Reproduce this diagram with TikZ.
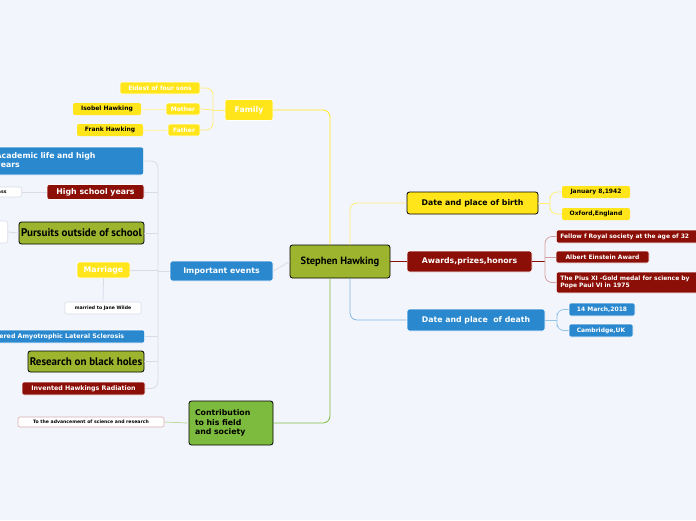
\documentclass[tikz,border=0pt]{standalone}
\usepackage{fontspec}
\setmainfont{DejaVu Sans}
\newfontfamily\condf{PT Sans}
\definecolor{bgc}{HTML}{F3F5FD}
\definecolor{yel}{HTML}{FFE51A}
\definecolor{dred}{HTML}{8C0F07}
\definecolor{blu}{HTML}{2A88CF}
\definecolor{oli}{HTML}{9DB52E}
\definecolor{grn}{HTML}{7CBB3D}
\definecolor{lgr}{HTML}{D8DCE6}
\tikzset{
 bx/.style={rounded corners=2.5pt, inner sep=0pt, align=center, font=\bfseries\fontsize{7.8}{9.5}\selectfont},
 sm/.style={rounded corners=2pt, inner sep=0pt, align=center, font=\bfseries\fontsize{6}{7.2}\selectfont},
 tn/.style={rounded corners=2pt, inner sep=0pt, align=center, font=\bfseries\fontsize{4.6}{5.5}\selectfont, fill=white, draw=lgr, line width=0.6pt},
 Y/.style={fill=yel, text=white, draw=white, line width=0.6pt},
 Yk/.style={fill=yel, text=black},
 R/.style={fill=dred, text=white, draw=white, line width=0.6pt},
 B/.style={fill=blu, text=white, draw=white, line width=0.6pt},
 O/.style={fill=oli, text=black, draw=black, line width=0.8pt, font=\condf\bfseries\fontsize{11}{13}\selectfont},
 ln/.style={draw=#1, line width=0.8pt, rounded corners=7pt},
}
\begin{document}
\begin{tikzpicture}[x=1pt,y=-1pt]
\fill[bgc] (0,0) rectangle (696,520);
\useasboundingbox (0,0) rectangle (696,520);
\clip (0,0) rectangle (696,520);
% center
\node[bx,O,minimum width=100,minimum height=33,font=\condf\bfseries\fontsize{10.5}{12}\selectfont] (sh) at (340,261.5) {Stephen Hawking};
% family
\node[bx,Y,minimum width=48,minimum height=21] (fam) at (249,110) {Family};
\node[sm,Y,minimum width=80,minimum height=12] (eld) at (160,88) {Eldest of four sons};
\node[sm,Y,minimum width=34,minimum height=12] (mot) at (183,109) {Mother};
\node[sm,Yk,minimum width=68,minimum height=12] (iso) at (107,109) {Isobel Hawking};
\node[sm,Y,minimum width=32,minimum height=12] (fat) at (184,130) {Father};
\node[sm,Yk,minimum width=66,minimum height=12] (fra) at (110,130) {Frank Hawking};
% important events
\node[bx,B,minimum width=103,minimum height=20] (imp) at (221.5,271) {Important events};
\node[bx,B,minimum width=150,minimum height=28,align=left,anchor=east,text width=146] (aca) at (144,161) {Academic life and high\\ years};
\node[bx,R,minimum width=97,minimum height=15] (hsy) at (95.5,192) {High school years};
\node[tn,minimum width=60,minimum height=10,anchor=east] (cls) at (22,192) {in her class};
\node[bx,O,minimum width=125,minimum height=22] (pur) at (81.5,233) {Pursuits outside of school};
\node[tn,minimum width=40,minimum height=22,anchor=east] (pl) at (8,232) {};
\node[bx,Y,minimum width=53,minimum height=16] (mar) at (103.5,270) {Marriage};
\node[tn,minimum width=76,minimum height=12] (jan) at (103,308) {married to Jane Wilde};
\node[sm,B,minimum width=180,minimum height=13,anchor=east,font=\bfseries\fontsize{6.3}{7}\selectfont] (als) at (145,336.5) {Suffered Amyotrophic Lateral Sclerosis};
\node[bx,O,minimum width=116,minimum height=21] (res) at (86,361.5) {Research on black holes};
\node[sm,R,minimum width=123,minimum height=13,font=\bfseries\fontsize{6.3}{7}\selectfont] (inv) at (83.5,388.5) {Invented Hawkings Radiation};
% contribution
\node[bx,fill=grn,draw=black,line width=0.8pt,minimum width=84,minimum height=44,align=left,text width=72] (con) at (231,423) {Contribution\\to his field\\and society};
\node[tn,draw=pink!70!gray,minimum width=146,minimum height=10] (adv) at (91,422) {To the advancement of science and research};
% right side
\node[bx,fill=yel,draw=black,line width=0.8pt,minimum width=131,minimum height=22] (bir) at (472.5,203) {Date and place of birth};
\node[sm,Yk,minimum width=68,minimum height=12] (j8) at (596,192) {January 8,1942};
\node[sm,Yk,minimum width=68,minimum height=12] (oxf) at (596,214) {Oxford,England};
\node[bx,R,minimum width=125,minimum height=21] (awd) at (469.5,261.5) {Awards,prizes,honors};
\node[sm,R,minimum width=160,minimum height=13,anchor=west,align=left,text width=152] (fel) at (556,236.5) {Fellow f Royal society at the age of 32};
\node[sm,R,minimum width=93,minimum height=12] (ein) at (602.5,257) {Albert Einstein Award};
\node[sm,R,minimum width=160,minimum height=21,anchor=west,align=left,text width=152] (piu) at (556,282.5) {The Pius XI -Gold medal for science by\\Pope Paul VI in 1975};
\node[bx,B,minimum width=138,minimum height=22] (dea) at (476,320) {Date and place~ of death};
\node[sm,B,minimum width=66,minimum height=13] (m14) at (602,309.5) {14 March,2018};
\node[sm,B,minimum width=64,minimum height=13] (cam) at (601,330.5) {Cambridge,UK};
% connectors from center
\draw[ln=yel] ([xshift=-10]sh.north) |- (fam.east);
\draw[ln=grn] ([xshift=-10]sh.south) |- (con.east);
\draw[ln=lgr] (sh.west) -- (imp.east);
\draw[ln=yel!60] ([xshift=10]sh.north) |- (bir.west);
\draw[ln=dred] (sh.east) -- (awd.west);
\draw[ln=blu!60] ([xshift=10]sh.south) |- (dea.west);
% family
\coordinate (fj) at (213,110);
\draw[ln=yel!60] (fam.west) -- (fj);
\draw[ln=yel!60] (eld.east) -| (fj) |- (fat.east);
\draw[ln=yel!60] (mot.east) -- (fj);
\draw[ln=yel!40] (mot.west) -- (iso.east);
\draw[ln=yel!40] (fat.west) -- (fra.east);
% important
\coordinate (ij) at (158,271);
\draw[ln=lgr] (imp.west) -- (ij);
\draw[ln=lgr] (aca.east) -| (ij) |- (inv.east);
\foreach \n in {hsy,pur,mar,als,res} \draw[ln=lgr] (\n.east) -- (\n.east -| ij);
\draw[ln=lgr] (hsy.west) -- (cls.east);
\draw[ln=lgr] (pur.west) -- (pl.east);
\draw[ln=lgr] (mar.south) -- (jan.north);
\draw[ln=grn!50] (con.west) -- (adv.east);
% right
\coordinate (bj) at (550,203);
\draw[ln=yel!60] (bir.east) -- (bj);
\draw[ln=yel!60] (j8.west) -| (bj) |- (oxf.west);
\coordinate (aj) at (545,261.5);
\draw[ln=dred] (awd.east) -- (aj);
\draw[ln=dred!40] (fel.west) -| (aj) |- (piu.west);
\draw[ln=dred!40] (ein.west) -- (ein.west -| aj);
\coordinate (dj) at (557,320);
\draw[ln=blu!50] (dea.east) -- (dj);
\draw[ln=blu!50] (m14.west) -| (dj) |- (cam.west);
\end{tikzpicture}
\end{document}
